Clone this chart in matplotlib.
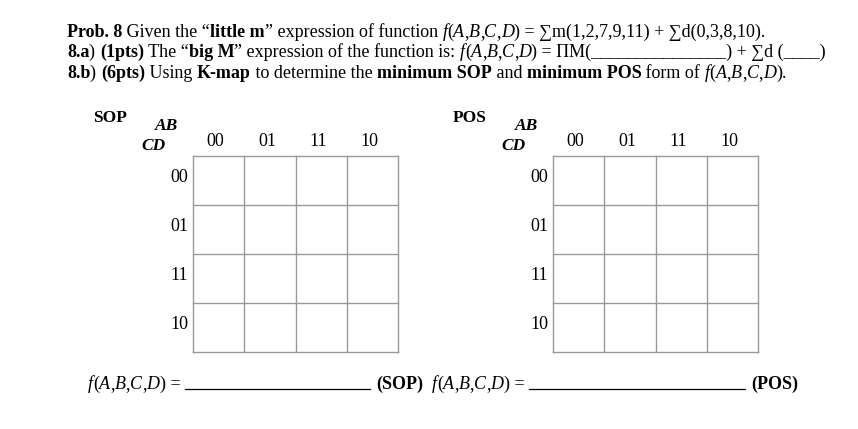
import matplotlib.pyplot as plt

minterms = [1, 2, 7, 9, 11]
dont_cares = [0, 3, 8, 10]
col_labels = ['00', '01', '11', '10']
row_labels = ['00', '01', '11', '10']
maps = [('SOP', 193), ('POS', 553)]

plt.rcParams['font.family'] = ['Liberation Serif', 'DejaVu Serif']
fig = plt.figure(figsize=(8.58, 4.29), dpi=100)
ax = fig.add_axes([0, 0, 1, 1])
ax.set_xlim(0, 858)
ax.set_ylim(429, 0)
ax.axis('off')
fig.canvas.draw()
renderer = fig.canvas.get_renderer()


def runs(x, y, parts, size=13):
    # parts: list of (text, weight, style)
    for txt, w, st in parts:
        t = ax.text(x, y, txt, fontsize=size, fontweight=w, fontstyle=st, va='baseline', ha='left')
        bb = t.get_window_extent(renderer)
        x += bb.width
    return x


N, B, I = 'normal', 'bold', 'italic'
m_txt = ','.join(str(v) for v in minterms)
d_txt = ','.join(str(v) for v in dont_cares)
fabcd = [('f', N, I), ('(', N, N), ('A', N, I), (',', N, N), ('B', N, I), (',', N, N),
         ('C', N, I), (',', N, N), ('D', N, I)]
runs(67, 37, [('Prob. 8', B, N), (' Given the \u201c', N, N), ('little m', B, N),
              ('\u201d expression of function ', N, N)] + fabcd +
     [(f') = \u2211m({m_txt}) + \u2211d({d_txt}).', N, N)])
runs(67, 57, [('8.a', B, N), (') ', N, N), ('(1pts)', B, N), (' The \u201c', N, N), ('big M', B, N),
              ('\u201d expression of the function is: ', N, N)] + fabcd +
     [(') = \u03a0M(_______________) + \u2211d (____)', N, N)])
runs(67, 78, [('8.b', B, N), (') ', N, N), ('(6pts)', B, N), (' Using ', N, N), ('K-map', B, N),
              (' to determine the ', N, N), ('minimum SOP', B, N), (' and ', N, N), ('minimum POS', B, N),
              (' form of ', N, N)] + fabcd + [(').', N, N)])

cw, ch = 51.3, 49
for name, x0 in maps:
    y0 = 156
    for i in range(5):
        ax.plot([x0 + i * cw, x0 + i * cw], [y0, y0 + 4 * ch], color='#999999', lw=1)
        ax.plot([x0, x0 + 4 * cw], [y0 + i * ch, y0 + i * ch], color='#999999', lw=1)
    for i, lab in enumerate(col_labels):
        ax.text(x0 + (i + 0.5) * cw - 3, 141, lab, fontsize=13, ha='center', va='center')
    for j, lab in enumerate(row_labels):
        ax.text(x0 - 5, y0 + (j + 0.5) * ch - 3, lab, fontsize=13, ha='right', va='center')
    ax.text(x0 - 100, 118, name, fontsize=12.5, fontweight='bold', ha='left', va='center')
    ax.text(x0 - 15, 126, 'AB', fontsize=12.5, fontweight='bold', fontstyle='italic', ha='right', va='center')
    ax.text(x0 - 27, 146, 'CD', fontsize=12.5, fontweight='bold', fontstyle='italic', ha='right', va='center')

x = runs(88, 389, fabcd + [(') = ', N, N)])
ax.plot([x, 370], [389, 389], color='black', lw=0.9)
x = runs(376, 389, [('(SOP)', B, N), ('  ', N, N)] + fabcd + [(') = ', N, N)])
ax.plot([x, 745], [389, 389], color='black', lw=0.9)
runs(751, 389, [('(POS)', B, N)])

fig.savefig('out.png', dpi=100)
